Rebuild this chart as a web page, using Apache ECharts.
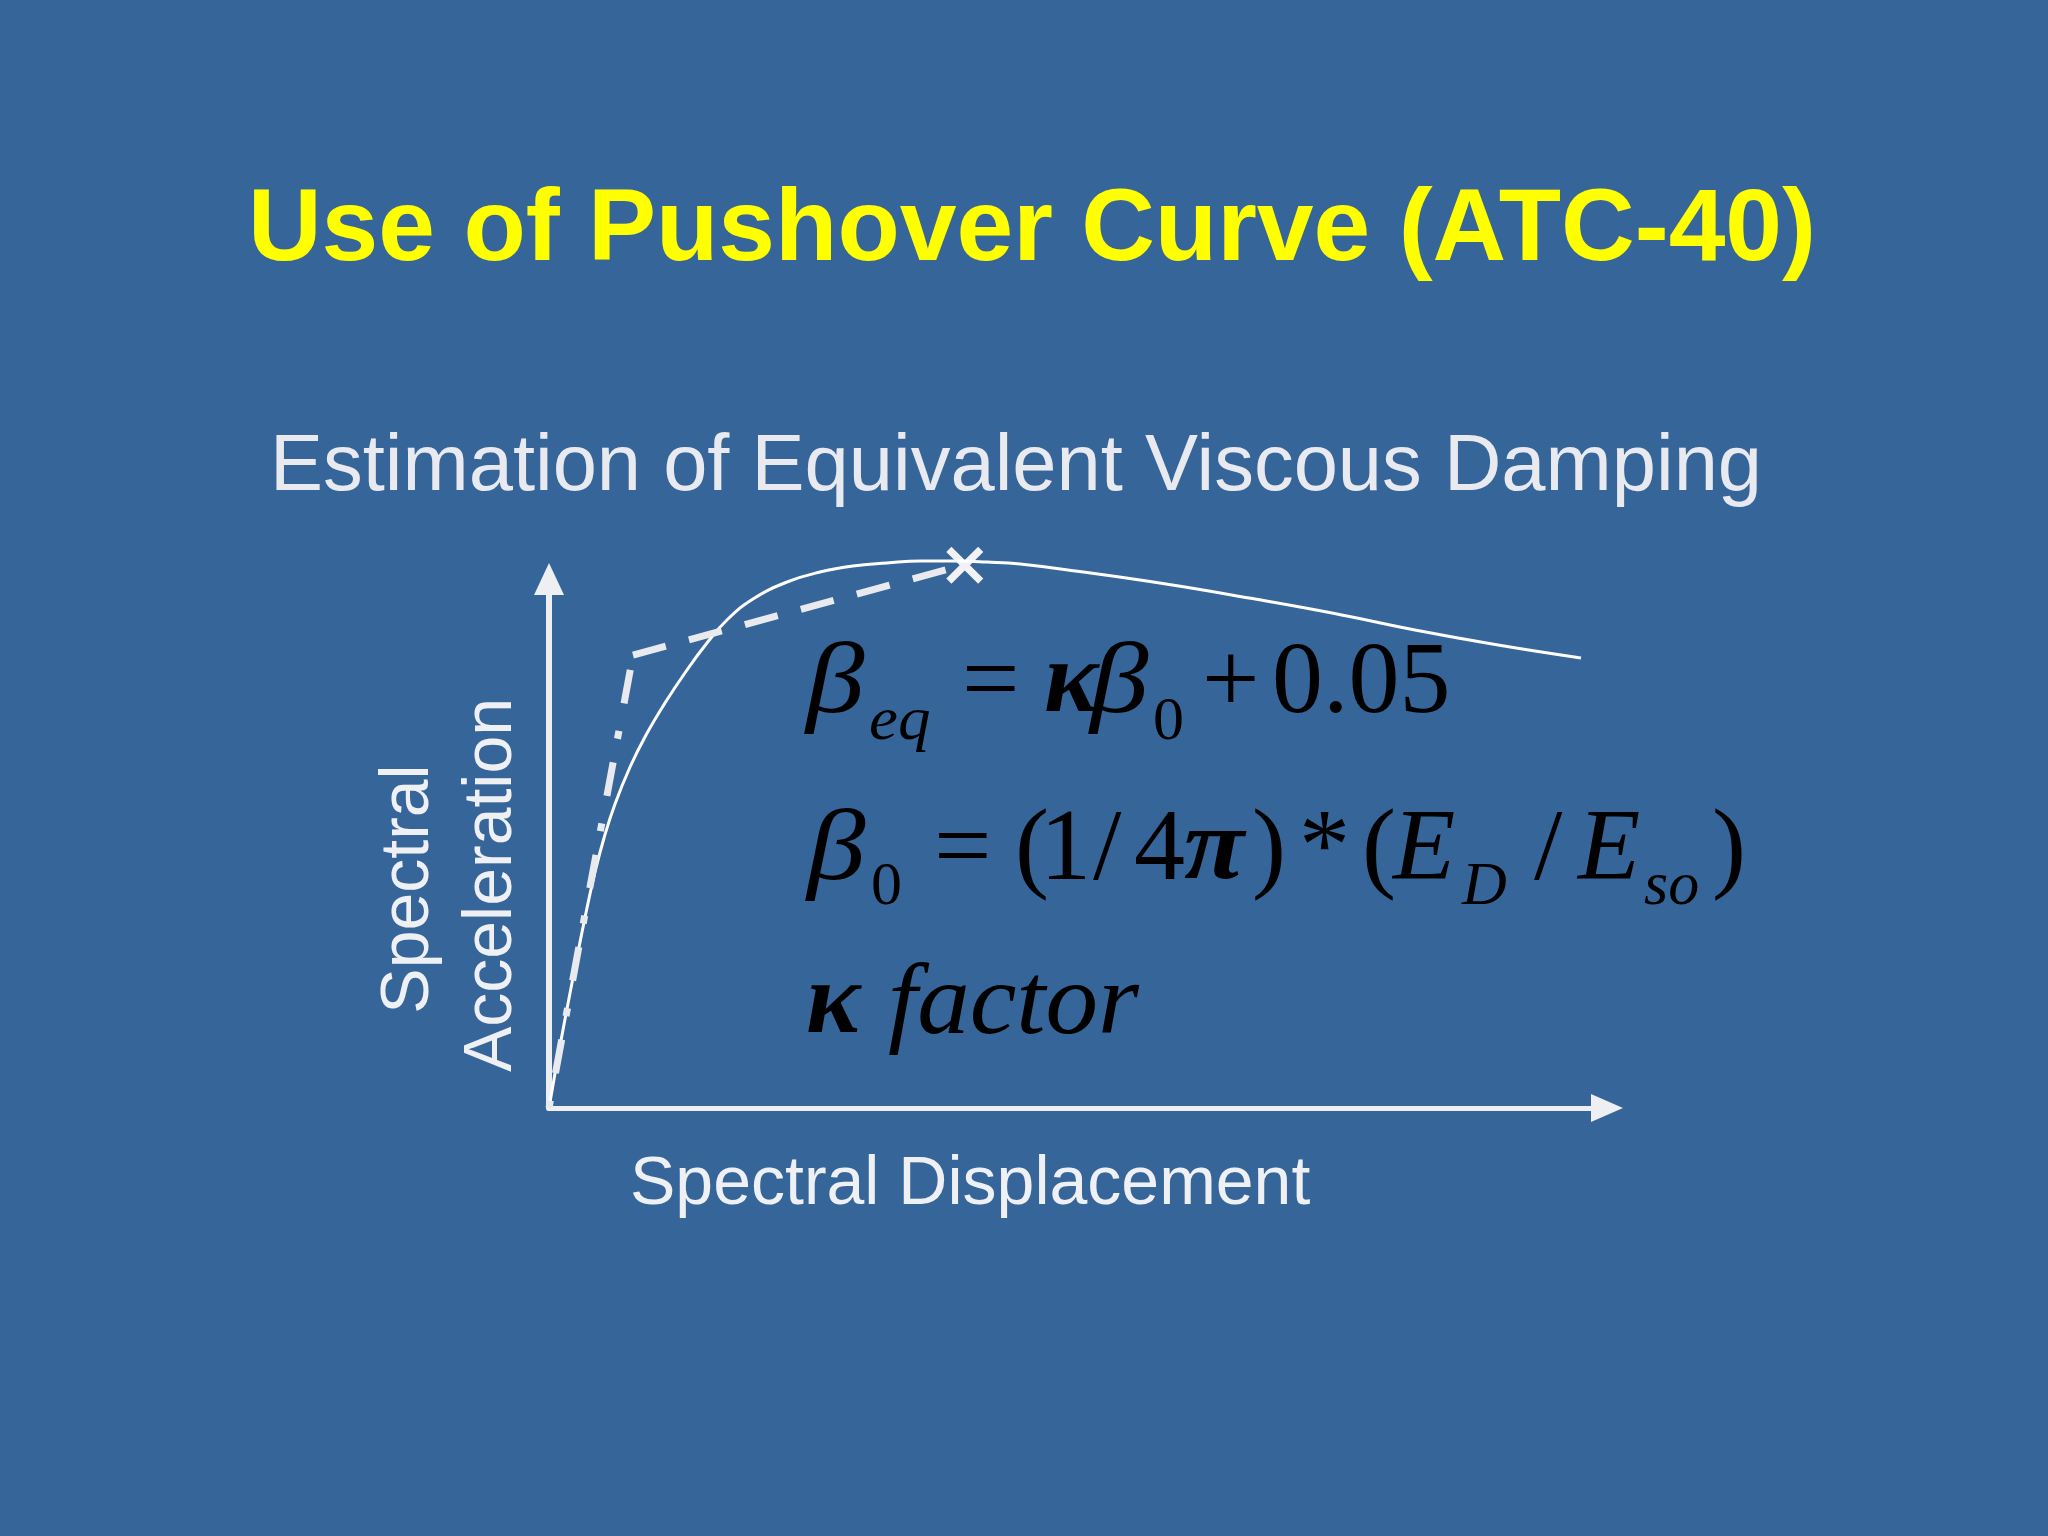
<!DOCTYPE html>
<html>
<head>
<meta charset="utf-8">
<style>
  html, body { margin: 0; padding: 0; background: #36659a; }
  #chart { width: 2048px; height: 1536px; }
</style>
<script src="https://cdn.jsdelivr.net/npm/echarts@6/dist/echarts.min.js"></script>
</head>
<body>
<div id="chart"></div>
<script>
// ---- data (spectral displacement / spectral acceleration, relative units) ----
const titleText = 'Use of Pushover Curve (ATC-40)';
const subtitleText = 'Estimation of Equivalent Viscous Damping';
const xAxisName = 'Spectral Displacement';
const yAxisNameLines = ['Spectral', 'Acceleration'];

const pushoverSd = [0, 0.66, 1.32, 2.08, 2.84, 3.59, 4.35, 5.20, 6.24, 7.66, 9.17, 10.96, 13.04, 14.93, 16.82, 19.28, 22.50, 25.61, 28.73, 31.95, 35.07, 38.19, 41.40, 44.52, 50.47, 58.32, 66.16, 74.01, 81.85, 89.70, 97.54];
const pushoverSa = [0, 7.56, 14.74, 22.68, 30.43, 37.81, 44.61, 51.04, 57.47, 64.46, 70.51, 76.56, 82.80, 87.90, 92.25, 96.22, 99.43, 101.32, 102.46, 103.02, 103.40, 103.40, 103.21, 102.84, 101.32, 99.05, 96.41, 93.57, 90.36, 87.52, 85.07];

const bilinearSd = [0, 7.94, 39.1];
const bilinearSa = [0, 85.6, 102.6];

const performancePoint = [39.3, 102.6];

// ---- build ----
const curveData = pushoverSd.map((x, i) => [x, pushoverSa[i]]);
// elastic branch drawn from the yield corner down to the origin
const seg1 = [[bilinearSd[1], bilinearSa[1]], [bilinearSd[0], bilinearSa[0]]];
const seg2 = [[bilinearSd[1], bilinearSa[1]], [bilinearSd[2], bilinearSa[2]]];

const chart = echarts.init(document.getElementById('chart'), null, { renderer: 'canvas' });

function txt(text, x, base, size, font, fill, extra) {
  const f = font.replace('{s}', size + 'px');
  return Object.assign({
    type: 'text',
    x: x,
    y: base - 0.305 * size,
    style: {
      text: text, font: f, fill: fill || '#000000',
      align: 'left', verticalAlign: 'middle',
      textAlign: 'left', textVerticalAlign: 'middle'
    }
  }, extra || {});
}
const SERIF_I = 'italic {s} "Liberation Serif", "Times New Roman", serif';
const SERIF = '{s} "Liberation Serif", "Times New Roman", serif';
const SERIF_BI = 'italic bold {s} "Liberation Serif", "Times New Roman", serif';
const SANS_B = 'bold {s} "Liberation Sans", Arial, sans-serif';
const SANS = '{s} "Liberation Sans", Arial, sans-serif';

const M = 102, S = 62;
const wide = { scaleX: 1.15 };
const graphics = [
  // title & subtitle
  txt(titleText, 1032, 263, 102, SANS_B, '#ffff00'),
  txt(subtitleText, 1016, 492, 79.5, SANS, '#e8eaf0'),
  txt(xAxisName, 630, 1206, 68, SANS, '#eef0f4'),
  // formula line 1
  txt('β', 806, 716, M, SERIF_I, null, wide),
  txt('eq', 869, 742, S, SERIF_I, null, { scaleX: 1.05 }),
  txt('=', 962, 716, M, SERIF),
  txt('κ', 1044, 716, M, SERIF_BI),
  txt('β', 1090, 716, M, SERIF_I, null, wide),
  txt('0', 1153, 742, S, SERIF),
  txt('+', 1202, 716, M, SERIF),
  txt('0.05', 1272, 716, M, SERIF),
  // formula line 2
  txt('β', 807, 883, M, SERIF_I, null, wide),
  txt('0', 871, 907, S, SERIF),
  txt('=', 934, 883, M, SERIF),
  txt('(', 1015, 883, M, SERIF),
  txt('1', 1040, 883, M, SERIF),
  txt('/', 1093, 883, M, SERIF),
  txt('4', 1134, 883, M, SERIF),
  txt('π', 1184, 883, M, SERIF_BI, null, { scaleX: 1.08 }),
  txt(')', 1252, 883, M, SERIF),
  txt('*', 1299, 883, M, SERIF),
  txt('(', 1362, 883, M, SERIF),
  txt('E', 1393, 883, M, SERIF_I),
  txt('D', 1462, 907, S, SERIF_I),
  txt('/', 1534, 883, M, SERIF),
  txt('E', 1578, 883, M, SERIF_I),
  txt('so', 1644, 907, S, SERIF_I),
  txt(')', 1712, 883, M, SERIF),
  // formula line 3
  txt('κ', 806, 1037, M, SERIF_BI),
  txt('factor', 888, 1037, M, SERIF_I, null, { scaleX: 1.03 })
];
// centre-aligned title / subtitle
graphics[0].style.align = graphics[0].style.textAlign = 'center';
graphics[1].style.align = graphics[1].style.textAlign = 'center';

// rotated y axis name (two lines)
const yNameX = [409, 492];
const yNameY = [889, 885];
yAxisNameLines.forEach((line, i) => {
  graphics.push({
    type: 'text',
    x: yNameX[i], y: yNameY[i],
    rotation: Math.PI / 2,
    style: {
      text: line, font: '68px "Liberation Sans", Arial, sans-serif', fill: '#eef0f4',
      align: 'center', verticalAlign: 'middle', textAlign: 'center', textVerticalAlign: 'middle'
    }
  });
});

const option = {
  backgroundColor: '#36659a',
  animation: false,
  grid: { left: 549, top: 579, width: 1058, height: 529, containLabel: false },
  xAxis: {
    type: 'value', min: 0, max: 100,
    axisLine: { show: true, symbol: ['none', 'triangle'], symbolSize: [28, 32],
      lineStyle: { color: '#eeeff2', width: 5 } },
    axisTick: { show: false }, axisLabel: { show: false }, splitLine: { show: false }
  },
  yAxis: {
    type: 'value', min: 0, max: 100,
    axisLine: { show: true, onZero: false, symbol: ['none', 'triangle'], symbolSize: [30, 32],
      lineStyle: { color: '#eeeff2', width: 6 } },
    axisTick: { show: false }, axisLabel: { show: false }, splitLine: { show: false }
  },
  series: [
    {
      name: 'Pushover curve', type: 'line', data: curveData, smooth: 0.45,
      symbol: 'none', clip: false,
      lineStyle: { color: '#ffffff', width: 3 }
    },
    {
      name: 'Bilinear elastic', type: 'line', data: seg1, symbol: 'none', clip: false,
      lineStyle: { color: '#e9eaee', width: 7, type: [34, 28, 8, 24], dashOffset: 79, cap: 'butt' }
    },
    {
      name: 'Bilinear post-yield', type: 'line', data: seg2, symbol: 'none', clip: false,
      lineStyle: { color: '#e9eaee', width: 7, type: [34, 24], cap: 'butt' }
    },
    {
      name: 'Performance point', type: 'scatter', data: [performancePoint], clip: false,
      symbol: 'path://M5,0 L18,13 L31,0 L36,5 L23,18 L36,31 L31,36 L18,23 L5,36 L0,31 L13,18 L0,5 Z',
      symbolSize: 37,
      itemStyle: { color: '#f2f2f4', opacity: 1 }
    }
  ],
  graphic: { elements: graphics }
};
chart.setOption(option);
</script>
</body>
</html>
